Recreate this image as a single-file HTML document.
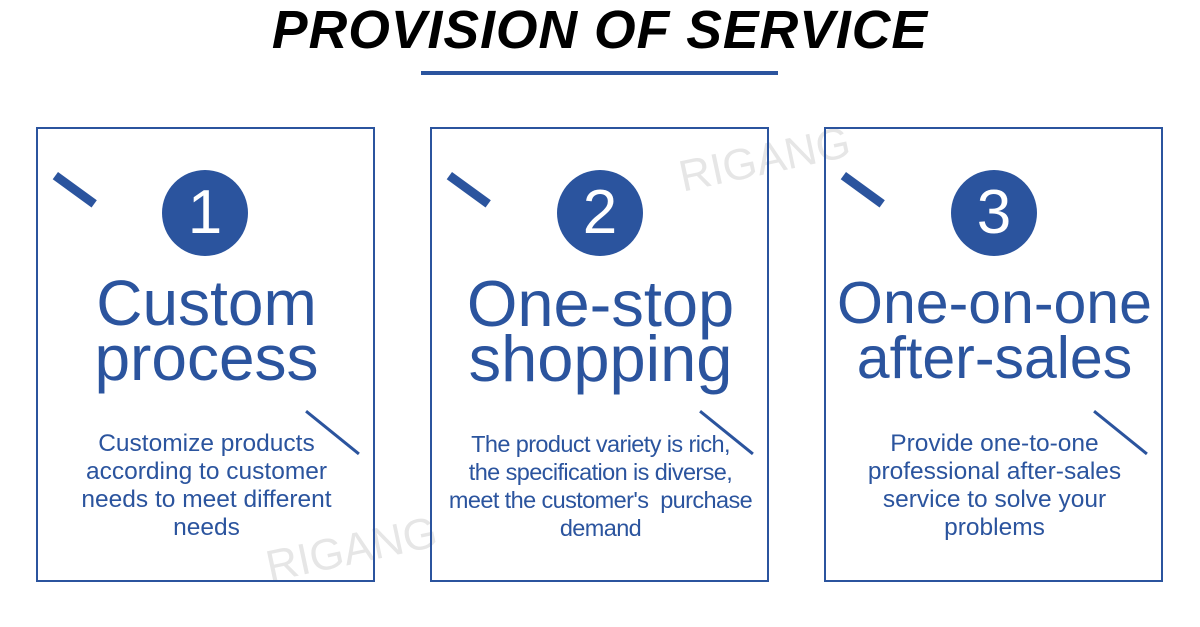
<!DOCTYPE html>
<html><head><meta charset="utf-8"><style>
body{margin:0;width:1200px;height:627px;background:#fff;position:relative;overflow:hidden;font-family:"Liberation Sans",sans-serif;color:#2b549e}
.t{position:absolute;left:0;width:1200px;top:3px;text-align:center;font-size:53.5px;font-weight:bold;font-style:italic;color:#000;line-height:56px;letter-spacing:1px}
.ul{position:absolute;left:421px;top:71px;width:357px;height:4px;background:#2b549e}
.box{position:absolute;top:127px;width:335px;height:451px;border:2px solid #2b549e}
.c{position:absolute;top:170px;width:86px;height:86px;border-radius:50%;background:#2b549e;color:#fff;font-size:62px;text-align:center;line-height:86px}
.thick{position:absolute;width:48px;height:9px;background:#2b549e;transform:rotate(36deg);transform-origin:0 0}
.thin{position:absolute;width:68px;height:2.5px;background:#2b549e;transform:rotate(39deg);transform-origin:0 0}
.big{position:absolute;top:276px;width:337px;text-align:center;font-size:64px;line-height:55px;white-space:nowrap}
.sm{position:absolute;top:430px;width:337px;text-align:center;font-size:24.5px;line-height:28px;white-space:nowrap}
.wm{position:absolute;color:#e6e6e6;font-size:44px;transform:rotate(-12deg)}
</style></head><body>
<div class="t">PROVISION OF SERVICE</div>
<div class="ul"></div>
<div class="wm" style="left:678px;top:135px">RIGANG</div>
<div class="wm" style="left:265px;top:525px">RIGANG</div>

<div class="box" style="left:36px"></div>
<div class="box" style="left:430px"></div>
<div class="box" style="left:824px"></div>

<div class="thick" style="left:58px;top:172px"></div>
<div class="thick" style="left:452px;top:172px"></div>
<div class="thick" style="left:846px;top:172px"></div>
<div class="thin" style="left:307px;top:410px"></div>
<div class="thin" style="left:701px;top:410px"></div>
<div class="thin" style="left:1095px;top:410px"></div>

<div class="c" style="left:162px">1</div>
<div class="c" style="left:557px">2</div>
<div class="c" style="left:951px">3</div>

<div class="big" style="left:38px">Custom<br>process</div>
<div class="big" style="left:432px;font-size:65px">One-stop<br>shopping</div>
<div class="big" style="left:826px;font-size:59px">One-on-one<br>after-sales</div>

<div class="sm" style="left:38px">Customize products<br>according to customer<br>needs to meet different<br>needs</div>
<div class="sm" style="left:432px;font-size:23.5px;letter-spacing:-0.6px">The product variety is rich,<br>the specification is diverse,<br>meet the customer's&nbsp; purchase<br>demand</div>
<div class="sm" style="left:826px">Provide one-to-one<br>professional after-sales<br>service to solve your<br>problems</div>
</body></html>
